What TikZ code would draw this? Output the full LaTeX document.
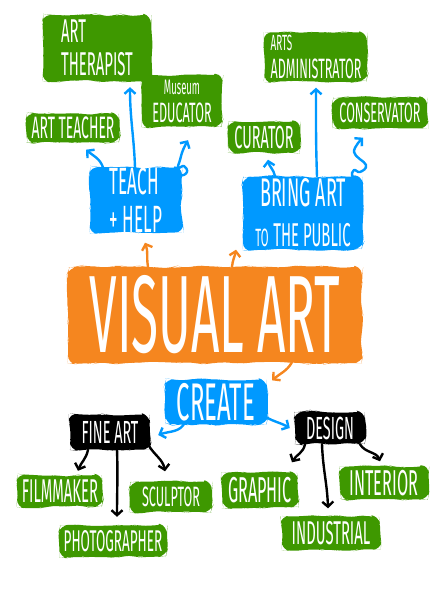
\documentclass[tikz,border=0pt]{standalone}
\usepackage{fontspec}
\newfontfamily\hand[FakeStretch=0.45]{Fira Sans}
\usetikzlibrary{arrows.meta,decorations.pathmorphing}
\definecolor{jobgreen}{HTML}{3E9800}
\definecolor{skyblue}{HTML}{0099FF}
\definecolor{artorange}{HTML}{F5861F}
\begin{document}
\begin{tikzpicture}[x=1pt, y=1pt, line cap=round, line join=round,
 blob/.style={decorate, decoration={random steps,segment length=8pt,amplitude=1.5pt}, rounded corners=8pt, inner sep=0pt, text=white, align=center},
 job/.style={blob, fill=jobgreen}, act/.style={blob, fill=skyblue}, kind/.style={blob, fill=black},
 fs/.style={font=\hand\fontsize{#1}{#1}\selectfont},
 sz/.style 2 args={minimum width=#1pt, minimum height=#2pt},
 wire/.style={line width=2.4pt, -{Straight Barb[length=5pt,width=11pt]}},
 blu/.style={wire, skyblue}, org/.style={wire, artorange}, blk/.style={wire, black}]
\pgfmathsetseed{3}
\useasboundingbox (0,0) rectangle (440,597);
% main topic
\node[blob, fill=artorange, fs=110, sz={294}{96}] (visual) at (215,282) {VISUAL ART};
% teach and help
\node[act, fs=38, align=left, sz={92}{65}] (teach) at (136,397) {TEACH\\+ HELP};
\node[job, fs=33, align=left, sz={108}{66}] (therapist) at (97,549) {ART\\THERAPIST};
\node[job, fs=28, sz={80}{52}] (museum) at (182,496) {{\fontsize{21}{21}\selectfont Museum}\\EDUCATOR};
\node[job, fs=31, sz={93}{29}] (teacher) at (73,469) {ART TEACHER};
% bring art to the public
\node[act, fs=40, sz={120}{73}] (bring) at (303,384) {BRING ART\\{\fontsize{25}{25}\selectfont TO} {\fontsize{33}{33}\selectfont THE PUBLIC}};
\node[job, fs=28, align=left, sz={102}{49}] (admin) at (316,540) {{\fontsize{22}{22}\selectfont ARTS}\\ADMINISTRATOR};
\node[job, fs=28, sz={94}{31}] (conservator) at (380,484) {CONSERVATOR};
\node[job, fs=32, sz={72}{31}] (curator) at (264,460) {CURATOR};
% create
\node[act, fs=53, sz={102}{45}] (create) at (216,195) {CREATE};
\node[kind, fs=32, sz={80}{35}] (fineart) at (110,165) {FINE ART};
\node[kind, fs=32, sz={70}{32}] (design) at (330,169) {DESIGN};
\node[job, fs=33, sz={85}{32}] (filmmaker) at (60,106) {FILMMAKER};
\node[job, fs=28, sz={82}{31}] (sculptor) at (171,100) {SCULPTOR};
\node[job, fs=30, sz={107}{32}] (photographer) at (113,56) {PHOTOGRAPHER};
\node[job, fs=36, sz={76}{35}] (graphic) at (260,107) {GRAPHIC};
\node[job, fs=36, sz={88}{33}] (interior) at (384,114) {INTERIOR};
\node[job, fs=33, sz={98}{33}] (industrial) at (331,64) {INDUSTRIAL};
% arrows
\draw[blu] ([xshift=-1pt]teach.north) to[out=92,in=-90] ([xshift=33pt,yshift=-6pt]therapist.south);
\draw[blu] ([xshift=-33pt]teach.north) to[out=110,in=-40] ([xshift=13pt,yshift=-7pt]teacher.south);
\draw[blu] plot[smooth,tension=.7] coordinates {([xshift=-10pt,yshift=-4pt]teach.north east) (180,421) (187,425) (184,431) (178,429) (180,437) (183,447) ([xshift=6pt,yshift=-13pt]museum.south)};
\draw[blu] ([xshift=-28pt]bring.north) to[out=100,in=-80] ([xshift=4pt,yshift=-7pt]curator.south);
\draw[blu] ([xshift=14pt]bring.north) to[out=92,in=-90] ([yshift=-6pt]admin.south);
\draw[blu] plot[smooth,tension=.7] coordinates {([xshift=-1pt,yshift=-8pt]bring.north east) (358,419) (352,421) (354,427) (360,425) (366,432) (354,445) ([xshift=-17pt,yshift=-9pt]conservator.south)};
\draw[org] ([xshift=-67pt]visual.north) to[out=100,in=-70] ([xshift=9pt,yshift=-10pt]teach.south);
\draw[org] ([xshift=17pt]visual.north) to[out=85,in=-100] ([xshift=-67pt]bring.south);
\draw[org] ([xshift=77pt,yshift=1pt]visual.south) to[out=-120,in=40] ([xshift=56pt,yshift=-1pt]create.north);
\draw[blu] ([xshift=-31pt,yshift=3pt]create.south) to[out=-110,in=20] ([xshift=8pt,yshift=-3pt]fineart.east);
\draw[blu] ([xshift=-2pt,yshift=8pt]create.south east) to[out=-30,in=150] ([xshift=-5pt]design.west);
\draw[blk] ([xshift=-22pt]fineart.south) to[out=-100,in=70] ([xshift=18pt,yshift=4pt]filmmaker.north);
\draw[blk] ([xshift=7pt]fineart.south) to[out=-88,in=90] ([xshift=4pt,yshift=8pt]photographer.north);
\draw[blk] ([xshift=-2pt,yshift=5pt]fineart.south east) to[out=-60,in=100] ([xshift=-6pt,yshift=10pt]sculptor.north);
\draw[blk] ([xshift=-25pt]design.south) to[out=-100,in=60] ([xshift=32pt,yshift=10pt]graphic.north);
\draw[blk] ([xshift=-8pt]design.south) to[out=-88,in=92] ([xshift=-3pt,yshift=8pt]industrial.north);
\draw[blk] ([xshift=30pt]design.south) to[out=-60,in=110] ([xshift=-4pt,yshift=5pt]interior.north);
\end{tikzpicture}
\end{document}
